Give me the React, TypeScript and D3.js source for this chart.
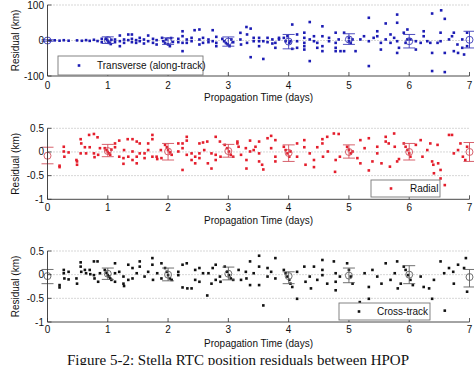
import * as d3 from 'd3';

type Pt = [number, number];
// [day, mean, low, high]
type Err = [number, number, number, number];

const days = [0, 1, 2, 3, 4, 5, 6, 7];
const transverseTicks = [-100, 0, 100];
const kmTicks = [-1, -0.5, 0, 0.5];

const transversePts: Pt[] = [
  [0.04, 0], [0.12, 0.5], [0.2, -0.5], [0.27, 0.8], [0.35, -0.6], [0.49, 0.3], [0.57, -0.8], [0.64, 1], [0.7, -1], [0.77, 2], [0.83, -1.5],
  [0.9, 4.7], [0.9, -4.7], [0.97, 5], [0.99, 1], [1.01, -3], [1.03, -7], [1.05, -10], [1.06, 2],
  [1.12, 2.8], [1.12, -4.7], [1.2, 14], [1.2, -1.9], [1.2, -16], [1.27, 2.8], [1.27, -6.6],
  [1.34, 16.9], [1.34, 1], [1.4, 16.9], [1.4, 4.7], [1.4, -4.7], [1.47, 1], [1.47, -6.6],
  [1.53, 7.5], [1.53, -1.9], [1.6, 2.8], [1.6, -8.5], [1.67, 14], [1.67, -1.9], [1.75, 4.7], [1.75, -6.6],
  [1.81, 1], [1.81, -11.3], [1.9, 7.5], [1.92, -2], [1.95, -7], [1.97, 3], [2.0, -11], [2.03, -16], [2.05, 7], [2.08, -4],
  [2.17, 4.7], [2.17, -4.7], [2.24, 26], [2.24, 12.2], [2.24, -6.6], [2.24, -30], [2.31, 2.8], [2.31, -6.6],
  [2.39, 7.5], [2.39, -1.9], [2.44, 29], [2.52, 31], [2.52, 2.8], [2.52, -11.3], [2.58, 7.5], [2.58, -6.6],
  [2.67, 2.8], [2.67, -4.7], [2.74, 29], [2.74, -1.9], [2.8, 10.3], [2.8, -6.6], [2.8, -16],
  [2.9, 4.7], [2.93, -2], [2.96, -7], [2.99, -11], [3.02, -16], [3.05, 3], [3.08, -5],
  [3.2, 21.6], [3.2, 2.8], [3.21, -11.3], [3.3, 38], [3.31, 17], [3.31, -6.6], [3.37, 33.5], [3.37, -47],
  [3.42, 7.5], [3.42, -2], [3.51, 7.5], [3.51, -2], [3.51, -16], [3.58, -52], [3.58, -2], [3.65, 7.5], [3.65, -4.7],
  [3.73, 3], [3.73, -8.5], [3.78, -6.6], [3.78, -20.6], [3.84, 3], [3.84, 7.5],
  [3.92, 7.5], [3.95, -2], [3.98, 12], [4.01, -6.6], [4.03, -2], [4.06, 45], [4.06, -23.5],
  [4.14, 17], [4.14, -2], [4.14, -20.6], [4.26, 22], [4.26, 7.5], [4.26, -6.6], [4.26, -16], [4.26, -25.5],
  [4.35, 52], [4.35, -58], [4.35, 3], [4.42, 12], [4.42, -2], [4.475, -6.6], [4.475, -20.6],
  [4.56, 40], [4.56, 12], [4.56, -16], [4.56, -30], [4.67, 7.5], [4.67, -2],
  [4.78, 22], [4.78, -6.6], [4.78, -20.6], [4.78, -30], [4.83, 3], [4.86, -30], [4.92, 22], [4.92, -30],
  [5.0, 7.5], [5.0, -2], [5.03, -6.6], [5.06, 3], [5.11, -30], [5.19, 3], [5.25, 12], [5.33, 64], [5.33, -72], [5.33, -2],
  [5.41, 7.5], [5.47, 26], [5.47, 12], [5.53, -6.6], [5.53, -25.5], [5.61, 48], [5.61, 3],
  [5.69, 17], [5.69, -6.6], [5.75, 7.5], [5.8, 73], [5.8, 50], [5.8, -2], [5.8, -35], [5.83, -20.6],
  [5.91, 22], [5.94, -6.6], [5.97, 31], [5.97, 3], [6.02, 3], [6.11, -25.5], [6.11, -2],
  [6.19, -6.6], [6.24, 26], [6.24, 12], [6.3, -2], [6.35, -6.6], [6.38, 76], [6.38, -35], [6.38, -86],
  [6.47, -6.6], [6.52, 22], [6.52, -2], [6.53, 85], [6.59, 61], [6.59, -35], [6.59, -89],
  [6.66, 3], [6.71, 12], [6.74, 22], [6.74, -30], [6.8, -11.3], [6.81, -35], [6.88, 3], [6.88, -20.6], [6.91, -39.5], [6.96, 22], [6.96, -16],
];

const radialPts: Pt[] = [
  [0.2, -0.32], [0.2, -0.29], [0.27, 0.01], [0.27, 0.11], [0.28, -0.1], [0.35, -0.01],
  [0.48, -0.17], [0.49, -0.27], [0.49, -0.2], [0.55, 0.27], [0.56, 0.18], [0.55, -0.03],
  [0.62, 0.1], [0.64, -0.03], [0.69, 0.36], [0.7, 0.1], [0.77, 0.38], [0.77, -0.03], [0.78, -0.11],
  [0.83, 0.31], [0.84, -0.06], [0.87, 0.08], [0.95, 0.08], [0.98, 0.04], [1.0, 0.0], [1.02, -0.03], [1.04, -0.06], [1.06, 0.05],
  [1.12, 0.1], [1.12, 0.18], [1.19, 0.24], [1.19, -0.1], [1.26, -0.13], [1.26, -0.25], [1.27, 0.04],
  [1.33, 0.27], [1.34, -0.1], [1.41, 0.27], [1.41, -0.17], [1.41, 0.01], [1.48, 0.22], [1.48, -0.1], [1.48, -0.24],
  [1.53, 0.18], [1.53, -0.03], [1.61, -0.03], [1.61, -0.13], [1.67, 0.18], [1.67, 0.04],
  [1.74, 0.36], [1.74, 0.27], [1.74, -0.1], [1.81, -0.1], [1.82, -0.15], [1.88, 0.04], [1.89, -0.13],
  [1.95, 0.15], [1.98, 0.1], [2.0, 0.04], [2.03, -0.01], [2.06, -0.06], [2.17, 0.18], [2.17, 0.01],
  [2.24, -0.38], [2.24, 0.18], [2.24, 0.08], [2.31, 0.32], [2.31, 0.24], [2.31, -0.06],
  [2.39, -0.17], [2.39, -0.03], [2.45, -0.24], [2.45, -0.1], [2.52, 0.18], [2.52, -0.03], [2.52, -0.13],
  [2.58, 0.2], [2.6, 0.04], [2.65, 0.22], [2.66, -0.24], [2.72, -0.35], [2.72, -0.03],
  [2.79, 0.32], [2.79, -0.17], [2.79, -0.06], [2.86, 0.22], [2.87, -0.1],
  [2.94, 0.15], [2.98, 0.08], [3.01, 0.01], [3.04, -0.06], [3.08, -0.1],
  [3.15, 0.22], [3.15, 0.18], [3.17, 0.11], [3.21, -0.06], [3.29, 0.08], [3.3, -0.17], [3.3, -0.35],
  [3.36, 0.24], [3.36, 0.01], [3.42, 0.04], [3.45, 0.11], [3.51, 0.22], [3.51, -0.03], [3.51, -0.2],
  [3.56, -0.27], [3.58, -0.37], [3.65, 0.29], [3.71, 0.34], [3.71, 0.08], [3.78, 0.25], [3.78, -0.1], [3.78, -0.2],
  [3.92, 0.11], [3.95, 0.04], [3.98, -0.03], [4.01, -0.1], [4.03, 0.01], [4.14, 0.18], [4.14, -0.1],
  [4.26, 0.25], [4.26, 0.1], [4.28, -0.27], [4.35, -0.03], [4.42, -0.17], [4.42, -0.32],
  [4.475, 0.1], [4.56, 0.18], [4.56, 0.27], [4.57, -0.1], [4.64, 0.32], [4.65, 0.01],
  [4.75, 0.39], [4.77, -0.42], [4.78, -0.17], [4.83, 0.38], [4.85, -0.1],
  [4.97, 0.11], [5.0, 0.04], [5.03, -0.03], [5.06, 0.01], [5.14, -0.13], [5.19, -0.24], [5.19, 0.25],
  [5.26, 0.08], [5.33, 0.29], [5.33, -0.39], [5.39, -0.2], [5.47, 0.11], [5.47, -0.03],
  [5.54, -0.24], [5.61, 0.32], [5.61, 0.22], [5.66, 0.18], [5.68, -0.31], [5.75, 0.39], [5.76, 0.11], [5.8, -0.2], [5.83, -0.15],
  [5.91, 0.18], [5.94, 0.11], [5.97, 0.04], [6.0, -0.03], [6.02, -0.1], [6.11, 0.15], [6.19, 0.25], [6.22, -0.1],
  [6.3, 0.04], [6.35, 0.18], [6.38, -0.2], [6.4, -0.27], [6.41, -0.45], [6.47, 0.15], [6.48, -0.24], [6.52, -0.38],
  [6.52, -0.56], [6.59, -0.7], [6.66, 0.36], [6.71, 0.36], [6.74, -0.03], [6.81, 0.04], [6.85, 0.18], [6.89, -0.1], [6.93, -0.17], [6.96, 0.11],
];

const crossPts: Pt[] = [
  [0.2, -0.27], [0.2, -0.22], [0.27, 0.03], [0.27, 0.1], [0.28, -0.08], [0.35, -0.1], [0.35, 0.06],
  [0.48, -0.08], [0.49, -0.19], [0.55, 0.26], [0.55, 0.17], [0.56, 0.06], [0.62, 0.1], [0.64, 0.03],
  [0.7, 0.1], [0.71, 0.01], [0.77, 0.28], [0.77, -0.01], [0.78, -0.08], [0.83, 0.28], [0.84, -0.15], [0.87, 0.03],
  [0.95, 0.1], [0.98, 0.04], [1.0, -0.01], [1.02, -0.04], [1.04, -0.08], [1.06, -0.11],
  [1.12, 0.24], [1.12, 0.03], [1.12, -0.15], [1.19, 0.06], [1.26, -0.19], [1.27, -0.24], [1.26, -0.04],
  [1.34, 0.21], [1.34, -0.11], [1.41, 0.14], [1.41, -0.08], [1.48, 0.03], [1.53, 0.17], [1.53, 0.28],
  [1.61, -0.04], [1.67, 0.06], [1.74, 0.35], [1.74, 0.21], [1.75, -0.11], [1.82, 0.03], [1.89, 0.24], [1.89, -0.08],
  [1.95, 0.14], [1.98, 0.06], [2.0, -0.01], [2.03, -0.08], [2.06, -0.11],
  [2.17, 0.06], [2.17, -0.01], [2.24, 0.21], [2.24, -0.27], [2.31, 0.24], [2.32, -0.29], [2.39, -0.29],
  [2.45, 0.1], [2.45, -0.11], [2.52, 0.14], [2.52, -0.15], [2.58, 0.03], [2.65, -0.44], [2.67, 0.03],
  [2.72, -0.19], [2.74, 0.14], [2.79, 0.21], [2.79, -0.11], [2.86, -0.04], [2.87, -0.15],
  [2.94, 0.17], [2.98, 0.06], [3.01, -0.01], [3.04, -0.08], [3.08, -0.11],
  [3.17, 0.1], [3.21, -0.11], [3.29, 0.06], [3.3, -0.08], [3.36, 0.28], [3.36, -0.22], [3.42, 0.03],
  [3.51, 0.4], [3.51, 0.17], [3.51, -0.22], [3.58, -0.65], [3.65, 0.14], [3.65, -0.04], [3.71, 0.06],
  [3.78, 0.35], [3.78, -0.08], [3.92, 0.1], [3.95, 0.03], [3.98, -0.04], [4.01, -0.11], [4.03, -0.19], [4.06, -0.26],
  [4.14, -0.51], [4.14, 0.06], [4.26, 0.17], [4.28, -0.15], [4.35, -0.04], [4.37, -0.29], [4.42, 0.17], [4.475, -0.11],
  [4.56, 0.31], [4.56, 0.1], [4.56, -0.01], [4.64, -0.19], [4.75, 0.28], [4.78, 0.03], [4.78, -0.15], [4.78, -0.33], [4.85, -0.04],
  [4.97, 0.24], [5.0, 0.1], [5.03, -0.04], [5.06, -0.19], [5.18, -0.58], [5.26, 0.03], [5.33, -0.51], [5.33, -0.26],
  [5.39, 0.1], [5.47, -0.04], [5.54, -0.19], [5.61, 0.24], [5.69, -0.11], [5.76, 0.03], [5.8, 0.28], [5.81, -0.29], [5.86, -0.19],
  [5.91, 0.17], [5.94, 0.1], [5.98, -0.01], [6.02, -0.11], [6.06, -0.22],
  [6.19, -0.04], [6.24, -0.26], [6.33, -0.29], [6.38, -0.51], [6.41, -0.11], [6.52, 0.28], [6.59, -0.76], [6.58, 0.03],
  [6.66, 0.14], [6.73, 0.06], [6.74, -0.19], [6.81, 0.21], [6.91, 0.14], [6.94, 0.35], [6.96, -0.36],
];

const transverseErr: Err[] = [
  [0, 0, -2, 2], [1, 1, -8.4, 10.3], [2, -2, -11, 7.5], [3, -3, -16, 10],
  [4, -3, -23.5, 17], [5, 3, -11, 19], [6, -2, -21, 17], [7, 2, -21, 26],
];
const radialErr: Err[] = [
  [0, -0.08, -0.25, 0.1], [1, 0.02, -0.1, 0.16], [2, 0.01, -0.17, 0.18], [3, 0.02, -0.11, 0.16],
  [4, -0.02, -0.2, 0.15], [5, 0, -0.13, 0.15], [6, 0, -0.17, 0.18], [7, 0, -0.2, 0.2],
];
const crossErr: Err[] = [
  [0, -0.03, -0.19, 0.11], [1, 0.02, -0.1, 0.14], [2, 0, -0.13, 0.14], [3, 0.02, -0.11, 0.16],
  [4, -0.03, -0.19, 0.06], [5, -0.02, -0.17, 0.14], [6, 0, -0.19, 0.19], [7, -0.05, -0.26, 0.11],
];

const FONT = '"Liberation Sans", Arial, sans-serif';

interface PanelProps {
  top: number;
  bottom: number;
  ticks: number[];
  pts: Pt[];
  errs: Err[];
  color: string;
  errColor: string;
  label: string;
  legend: { x: number; y: number; w: number; h: number; dotX: number; textX: number };
  tickLabelGap: number;
}

const Panel = ({ top, bottom, ticks, pts, errs, color, errColor, label, legend, tickLabelGap }: PanelProps) => {
  const x = d3.scaleLinear().domain([0, 7]).range([47.5, 469.5]);
  const y = d3.scaleLinear().domain([ticks[0], ticks[ticks.length - 1]]).range([bottom, top]);
  const [x0, x1] = x.range();
  const cap = 6;
  const dot = 2.6;

  return (
    <g>
      {/* dotted grid lines */}
      {ticks.slice(1).map(t => (
        <line key={'g' + t} x1={x0} x2={x1} y1={y(t)} y2={y(t)} stroke="#9a9a9a" strokeWidth={0.8} strokeDasharray="1,2" />
      ))}

      {pts.map((p, i) => (
        <rect key={i} x={x(p[0]) - dot / 2} y={y(p[1]) - dot / 2} width={dot} height={dot} fill={color} />
      ))}

      {errs.map(e => {
        const cx = x(e[0]);
        return (
          <g key={'e' + e[0]} stroke={errColor} strokeWidth={0.9} fill="none">
            <line x1={cx} x2={cx} y1={y(e[2])} y2={y(e[3])} />
            <line x1={cx - cap} x2={cx + cap} y1={y(e[2])} y2={y(e[2])} />
            <line x1={cx - cap} x2={cx + cap} y1={y(e[3])} y2={y(e[3])} />
            <circle cx={cx} cy={y(e[1])} r={3.5} />
          </g>
        );
      })}

      {/* axes */}
      <line x1={x0} x2={x0} y1={top} y2={bottom} stroke="#333" strokeWidth={0.9} />
      <line x1={x0} x2={x1} y1={bottom} y2={bottom} stroke="#333" strokeWidth={0.9} />
      {ticks.map(t => (
        <g key={'yt' + t}>
          <line x1={x0} x2={x0 + 4} y1={y(t)} y2={y(t)} stroke="#333" strokeWidth={0.8} />
          <text x={44} y={y(t)} dy="0.35em" textAnchor="end" fontSize={10} fontFamily={FONT} fill="#111">
            {t}
          </text>
        </g>
      ))}
      {days.map(d => (
        <g key={'xt' + d}>
          <line x1={x(d)} x2={x(d)} y1={bottom} y2={bottom - 4} stroke="#333" strokeWidth={0.8} />
          <text x={x(d)} y={bottom + tickLabelGap} dy="0.35em" textAnchor="middle" fontSize={10} fontFamily={FONT} fill="#111">
            {d}
          </text>
        </g>
      ))}
      <text x={(x0 + x1) / 2} y={bottom + 21} dy="0.35em" textAnchor="middle" fontSize={10} fontFamily={FONT} fill="#111">
        Propagation Time (days)
      </text>
      <text
        transform={`translate(15,${(top + bottom) / 2}) rotate(-90)`}
        dy="0.35em"
        textAnchor="middle"
        fontSize={10}
        fontFamily={FONT}
        fill="#111"
      >
        Residual (km)
      </text>

      {/* legend */}
      <rect x={legend.x} y={legend.y} width={legend.w} height={legend.h} fill="#fff" stroke="#777" strokeWidth={0.9} />
      <rect x={legend.dotX - dot / 2} y={legend.y + legend.h / 2 - dot / 2} width={dot} height={dot} fill={color} />
      <text x={legend.textX} y={legend.y + legend.h / 2} dy="0.35em" fontSize={10} fontFamily={FONT} fill="#111">
        {label}
      </text>
    </g>
  );
};

const App = () => {
  return (
    <svg
      width={474}
      height={365}
      style={{ position: 'absolute', left: 0, top: 0, background: '#fff', display: 'block' }}
    >
      <Panel
        top={5}
        bottom={76}
        ticks={transverseTicks}
        pts={transversePts}
        errs={transverseErr}
        color="#1c1cb4"
        errColor="#3a3ab8"
        label="Transverse (along-track)"
        legend={{ x: 58, y: 56, w: 145, h: 19, dotX: 79, textX: 97 }}
        tickLabelGap={9.5}
      />
      <Panel
        top={128.3}
        bottom={199.3}
        ticks={kmTicks}
        pts={radialPts}
        errs={radialErr}
        color="#e41e2c"
        errColor="#d2505c"
        label="Radial"
        legend={{ x: 371, y: 180, w: 69, h: 17, dotX: 391, textX: 410 }}
        tickLabelGap={8.5}
      />
      <Panel
        top={251}
        bottom={322}
        ticks={kmTicks}
        pts={crossPts}
        errs={crossErr}
        color="#111"
        errColor="#606060"
        label="Cross-track"
        legend={{ x: 339, y: 303, w: 91, h: 17, dotX: 359, textX: 377 }}
        tickLabelGap={7.5}
      />
      <text x={67} y={365} fontSize={15} fontFamily='"Liberation Serif", "Times New Roman", serif' fill="#111">
        Figure 5-2: Stella RTC position residuals between HPOP
      </text>
    </svg>
  );
};

export default App;
